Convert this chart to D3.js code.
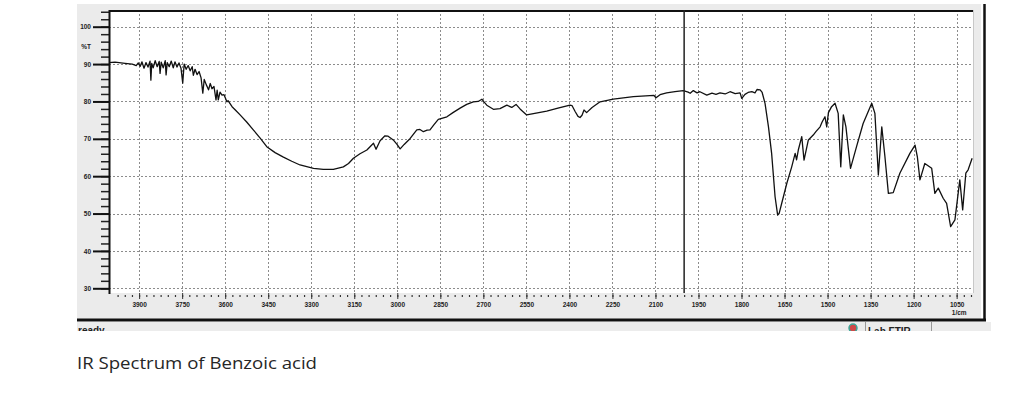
<!DOCTYPE html>
<html>
<head>
<meta charset="utf-8">
<script src="https://cdn.jsdelivr.net/npm/d3@7"></script>
<style>
  html, body { margin: 0; padding: 0; background: #ffffff; }
  svg { display: block; }
</style>
</head>
<body>
<svg id="chart" width="1024" height="399"></svg>
<script>
// ---------- data ----------
const wavenumbers = [4005,3984,3949,3924,3910,3903,3896,3890,3883,3876,3869,3862,3859,3856,3851,3844,3837,3830,3827,3823,3816,3809,3806,3802,3795,3788,3781,3775,3768,3761,3754,3748,3743,3736,3729,3722,3715,3711,3705,3698,3691,3684,3678,3673,3666,3658,3652,3646,3639,3632,3628,3624,3618,3611,3604,3594,3590,3576,3562,3548,3525,3502,3478,3455,3426,3397,3368,3339,3292,3258,3223,3188,3170,3153,3130,3106,3083,3074,3060,3043,3032,3014,3001,2990,2976,2955,2932,2921,2909,2896,2886,2872,2857,2827,2806,2781,2758,2735,2718,2705,2697,2688,2665,2642,2618,2601,2586,2572,2549,2516,2479,2440,2398,2391,2380,2370,2363,2356,2349,2340,2321,2293,2247,2177,2105,2098,2084,2061,2032,2003,1986,1979,1968,1955,1945,1921,1903,1889,1875,1857,1840,1822,1805,1799,1788,1777,1764,1753,1746,1735,1728,1718,1706,1695,1683,1674,1669,1660,1642,1625,1613,1608,1602,1590,1582,1567,1550,1540,1526,1519,1509,1503,1497,1486,1474,1463,1454,1445,1436,1420,1399,1376,1346,1335,1323,1311,1300,1288,1271,1248,1213,1195,1187,1178,1161,1137,1126,1114,1097,1085,1071,1056,1039,1029,1018,1010,996];
const transmittance = [90.4,90.5,90.2,90.0,89.6,90.3,89.4,90.6,88.9,90.4,89.2,90.8,85.7,90.2,89.0,90.9,89.3,90.7,87.5,90.5,89.0,90.9,87.1,90.4,89.3,90.8,89.0,90.6,89.2,90.3,88.9,84.9,90.0,88.6,89.6,88.2,89.3,87.0,88.6,87.2,88.0,86.3,82.2,85.9,84.5,83.1,84.8,83.4,84.0,80.4,83.0,80.4,82.5,81.7,81.8,79.9,80.2,78.6,77.5,76.4,74.5,72.4,70.2,67.9,66.3,65.1,64.0,63.0,62.1,61.8,61.8,62.5,63.4,64.8,66.0,67.0,68.8,67.2,69.5,70.8,70.7,69.7,68.5,67.3,68.5,70.1,72.4,72.5,71.9,72.3,72.4,73.8,75.2,75.9,77.0,78.2,79.2,79.9,80.0,80.6,79.8,79.0,77.9,78.1,79.0,78.4,79.2,78.0,76.4,76.9,77.4,78.2,79.0,78.9,77.3,76.0,75.7,76.3,77.7,77.0,78.4,79.9,80.6,81.3,81.6,81.0,81.8,82.3,82.6,82.9,82.5,82.2,82.9,82.3,82.6,81.7,82.2,81.9,82.3,82.0,82.6,82.1,82.3,80.8,81.9,82.4,82.6,82.3,83.2,83.1,82.4,79.5,73.2,66.1,54.5,49.6,50.0,52.7,58.1,62.5,66.1,64.4,67.0,70.6,64.3,69.7,71.0,72.0,73.2,74.5,75.9,73.2,77.0,78.6,79.5,76.8,62.5,76.4,73.2,62.1,67.9,74.1,79.5,76.8,60.3,73.2,65.2,55.4,55.6,60.8,66.1,68.3,65.2,59.0,63.4,62.1,55.4,56.8,54.1,52.7,46.5,48.3,59.0,51.0,60.8,61.7,64.8];
const xTickLabels = [3900,3750,3600,3450,3300,3150,3000,2850,2700,2550,2400,2250,2100,1950,1800,1650,1500,1350,1200,1050];
const yTickLabels = [30,40,50,60,70,80,90,100];
const cursorWavenumber = 2000;
const captionText = "IR Spectrum of Benzoic acid";

// ---------- scales ----------
const svg = d3.select("#chart");
const x = d3.scaleLinear().domain([4005, 993]).range([109, 973]);
const y = d3.scaleLinear().domain([30, 100]).range([288.3, 26.7]);
const plotTop = 10, plotBottom = 293;

// ---------- window frame ----------
svg.append("rect").attr("x", 77).attr("y", 4).attr("width", 904).attr("height", 315).attr("fill", "#ebebeb");
svg.append("rect").attr("x", 109).attr("y", plotTop).attr("width", 864).attr("height", plotBottom - plotTop).attr("fill", "#ffffff");
svg.append("line").attr("x1", 973.5).attr("x2", 973.5).attr("y1", plotTop).attr("y2", plotBottom).attr("stroke", "#c8c8c8").attr("stroke-width", 1);
svg.append("line").attr("x1", 984.5).attr("x2", 984.5).attr("y1", 4).attr("y2", 321).attr("stroke", "#111").attr("stroke-width", 2.5);
svg.append("line").attr("x1", 77).attr("x2", 986).attr("y1", 320).attr("y2", 320).attr("stroke", "#111").attr("stroke-width", 3);

// status bar strip
const strip = svg.append("g");
svg.append("clipPath").attr("id", "stripClip").append("rect").attr("x", 77).attr("y", 322).attr("width", 914).attr("height", 9);
strip.append("rect").attr("x", 77).attr("y", 322).attr("width", 914).attr("height", 9).attr("fill", "#ececec");
const stripInner = strip.append("g").attr("clip-path", "url(#stripClip)");
stripInner.append("text").attr("x", 78).attr("y", 334).attr("font-family", "Liberation Sans, Arial, sans-serif").attr("font-size", 10).attr("font-weight", "bold").attr("fill", "#222").text("ready");
stripInner.append("line").attr("x1", 865.5).attr("x2", 865.5).attr("y1", 322).attr("y2", 331).attr("stroke", "#999");
stripInner.append("line").attr("x1", 931.5).attr("x2", 931.5).attr("y1", 322).attr("y2", 331).attr("stroke", "#999");
stripInner.append("circle").attr("cx", 853).attr("cy", 328).attr("r", 4).attr("fill", "#d04848").attr("stroke", "#3aa89a").attr("stroke-width", 1.5);
stripInner.append("text").attr("x", 868).attr("y", 335).attr("font-family", "Liberation Sans, Arial, sans-serif").attr("font-size", 10).attr("font-weight", "bold").attr("fill", "#222").text("Lab FTIR");

// ---------- grid ----------
const grid = svg.append("g");
grid.selectAll(".vg").data(xTickLabels).enter().append("line")
  .attr("x1", d => Math.round(x(d)) + 0.5).attr("x2", d => Math.round(x(d)) + 0.5)
  .attr("y1", plotTop).attr("y2", plotBottom)
  .attr("stroke", "#8c8c8c").attr("stroke-width", 1).attr("stroke-dasharray", "2,2");
grid.selectAll(".hg").data(yTickLabels).enter().append("line")
  .attr("x1", 109).attr("x2", 973)
  .attr("y1", d => Math.round(y(d)) + 0.5).attr("y2", d => Math.round(y(d)) + 0.5)
  .attr("stroke", "#8c8c8c").attr("stroke-width", 1).attr("stroke-dasharray", "2,2");

// top border
svg.append("line").attr("x1", 109).attr("x2", 973).attr("y1", 11).attr("y2", 11).attr("stroke", "#111").attr("stroke-width", 2);

// ---------- y axis ----------
const yMinor = d3.range(30, 105, 2);
const yAxisMinor = d3.axisLeft(y).tickValues(yMinor).tickSize(8).tickFormat("");
const yAxisMajor = d3.axisLeft(y).tickValues(yTickLabels).tickSize(16).tickPadding(2).tickFormat(d3.format("d"));
const gyMinor = svg.append("g").attr("transform", "translate(109,0)").call(yAxisMinor);
gyMinor.select(".domain").remove();
gyMinor.selectAll("line").attr("stroke", "#222").attr("stroke-width", 1.5);
const gyMajor = svg.append("g").attr("transform", "translate(109,0)").call(yAxisMajor);
gyMajor.select(".domain").remove();
gyMajor.selectAll("line").attr("stroke", "#111").attr("stroke-width", 2);
gyMajor.selectAll("text").attr("font-family", "Liberation Sans, Arial, sans-serif").attr("font-size", 6.5).attr("font-weight", "bold").attr("fill", "#222");
svg.append("line").attr("x1", 109.5).attr("x2", 109.5).attr("y1", plotTop).attr("y2", 294).attr("stroke", "#111").attr("stroke-width", 2);
svg.append("text").attr("x", 91).attr("y", 49).attr("text-anchor", "end")
  .attr("font-family", "Liberation Sans, Arial, sans-serif").attr("font-size", 6.5).attr("font-weight", "bold").attr("fill", "#222").text("%T");

// ---------- x axis ----------
const xMinor = d3.range(3975, 990, -25);
const xAxisMinor = d3.axisBottom(x).tickValues(xMinor).tickSize(2).tickFormat("");
const gxMinor = svg.append("g").attr("transform", "translate(0,295)").call(xAxisMinor);
gxMinor.select(".domain").remove();
gxMinor.selectAll("line").attr("stroke", "#333").attr("stroke-width", 1.2);
const xAxisMajor = d3.axisBottom(x).tickValues(xTickLabels).tickSize(6).tickPadding(3).tickFormat(d3.format("d"));
const gxMajor = svg.append("g").attr("transform", "translate(0,293)").call(xAxisMajor);
gxMajor.select(".domain").remove();
gxMajor.selectAll("line").attr("stroke", "#333").attr("stroke-width", 1);
gxMajor.selectAll("text").attr("font-family", "Liberation Sans, Arial, sans-serif").attr("font-size", 6.5).attr("font-weight", "bold").attr("fill", "#222");
svg.append("text").attr("x", x(1050) + 10).attr("y", 315).attr("text-anchor", "end")
  .attr("font-family", "Liberation Sans, Arial, sans-serif").attr("font-size", 6.5).attr("font-weight", "bold").attr("fill", "#222").text("1/cm");

// ---------- spectrum ----------
const pts = wavenumbers.map((w, i) => [w, transmittance[i]]);
const line = d3.line().x(d => x(d[0])).y(d => y(d[1]));
svg.append("path").datum(pts).attr("d", line).attr("fill", "none")
  .attr("stroke", "#111").attr("stroke-width", 1.3).attr("stroke-linejoin", "round");

// cursor line
svg.append("line").attr("x1", x(cursorWavenumber)).attr("x2", x(cursorWavenumber))
  .attr("y1", plotTop).attr("y2", plotBottom).attr("stroke", "#222").attr("stroke-width", 1.5);

// ---------- caption ----------
svg.append("text").attr("x", 77).attr("y", 369)
  .attr("font-family", "'Open Sans', Lato, sans-serif").attr("font-size", 16)
  .attr("textLength", 240).attr("lengthAdjust", "spacingAndGlyphs")
  .attr("fill", "#262626").text(captionText);
</script>
</body>
</html>
